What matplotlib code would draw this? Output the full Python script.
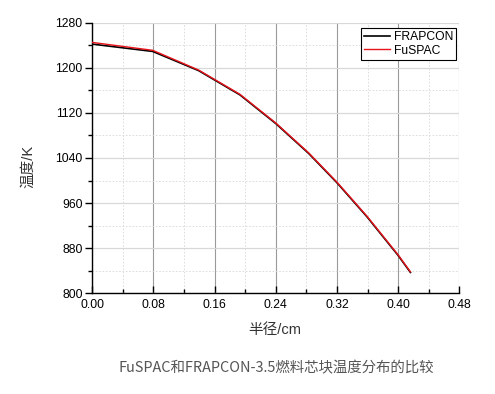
import matplotlib
matplotlib.use("Agg")
import matplotlib.pyplot as plt
from matplotlib.ticker import MultipleLocator

plt.rcParams['font.family'] = ['Liberation Sans', 'Noto Sans CJK SC', 'DejaVu Sans']

radius = [0.0, 0.079, 0.139, 0.193, 0.240, 0.283, 0.320, 0.359, 0.400, 0.416]
frapcon = [1242, 1229, 1195, 1152, 1101, 1048, 996, 936, 867, 837]
fuspac = [1245, 1231, 1196, 1153, 1102, 1049, 997, 937, 868, 838]
xticks = [0.00, 0.08, 0.16, 0.24, 0.32, 0.40, 0.48]
yticks = [800, 880, 960, 1040, 1120, 1200, 1280]

fig = plt.figure(figsize=(4.95, 3.94), dpi=100)
ax = fig.add_axes([0.1865, 0.2556, 0.7415, 0.6868])

ax.plot(radius, frapcon, color='black', lw=1.2, label='FRAPCON', zorder=3)
ax.plot(radius, fuspac, color='#e8141b', lw=1.0, label='FuSPAC', zorder=4)

ax.set_xlim(0, 0.48)
ax.set_ylim(800, 1280)
ax.set_xticks(xticks)
ax.set_xticklabels([f"{v:.2f}" for v in xticks])
ax.set_yticks(yticks)
ax.xaxis.set_minor_locator(MultipleLocator(0.04))
ax.yaxis.set_minor_locator(MultipleLocator(40))

ax.grid(which='major', axis='x', color='#9a9a9a', lw=0.8)
ax.grid(which='major', axis='y', color='#d8d8d8', lw=0.9)
ax.grid(which='minor', color='#d8d8d8', lw=0.6, ls=(0, (2, 2)))
ax.set_axisbelow(True)

for s in ['top', 'right']:
    ax.spines[s].set_visible(False)
for s in ['left', 'bottom']:
    ax.spines[s].set_linewidth(1.0)

ax.tick_params(axis='x', which='major', direction='in', length=5, width=1, labelsize=8.8, pad=4)
ax.tick_params(axis='x', which='minor', direction='in', length=3, width=1)
ax.tick_params(axis='y', which='major', direction='out', length=5, width=1, labelsize=8.8, pad=2)
ax.tick_params(axis='y', which='minor', direction='out', length=3, width=1)

leg = ax.legend(loc='upper right', bbox_to_anchor=(0.992, 0.979), fontsize=8.7,
                frameon=True, fancybox=False, edgecolor='black', framealpha=1,
                borderpad=0.25, labelspacing=0.1, handlelength=2.2, handletextpad=0.3,
                borderaxespad=0)
leg.get_frame().set_linewidth(0.8)

fig.text(0.555, 1 - 330 / 394, '半径/cm', ha='center', va='center', fontsize=10.5, color='#333333')
fig.text(0.057, 1 - 166 / 394, '温度/K', ha='center', va='center', rotation=90,
         fontsize=10.5, color='#333333')
fig.text(0.559, 1 - 368 / 394, 'FuSPAC和FRAPCON-3.5燃料芯块温度分布的比较', ha='center', va='center',
         fontsize=10.4, color='#555555', family=['Noto Sans CJK SC', 'DejaVu Sans'])

fig.savefig('out.png', dpi=100)
